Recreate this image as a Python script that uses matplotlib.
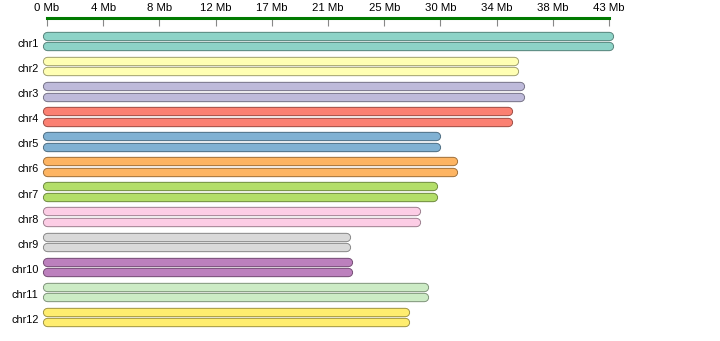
import matplotlib
matplotlib.use("Agg")
import matplotlib.pyplot as plt
import matplotlib.transforms as mtransforms
import numpy as np
from matplotlib.colors import to_rgb

chroms = ["chr1", "chr2", "chr3", "chr4", "chr5", "chr6",
          "chr7", "chr8", "chr9", "chr10", "chr11", "chr12"]
lengths_mb = [43.27, 35.94, 36.41, 35.50, 29.96, 31.25,
              29.70, 28.44, 23.01, 23.21, 29.02, 27.53]
colors = ["#8dd3c7", "#ffffb3", "#bebada", "#fb8072", "#80b1d3", "#fdb462",
          "#b3de69", "#fccde5", "#d9d9d9", "#bc80bd", "#ccebc5", "#ffed6f"]
tick_labels = ["0 Mb", "4 Mb", "8 Mb", "12 Mb", "17 Mb", "21 Mb",
               "25 Mb", "30 Mb", "34 Mb", "38 Mb", "43 Mb"]

plt.rcParams['font.family'] = ['Liberation Sans', 'DejaVu Sans']

W, H = 720, 341
fig = plt.figure(figsize=(W / 100, H / 100), dpi=100)
x0_px, x1_px = 47, 609
top_px = 17.5
row0_px, row_step = 41.0, 25.1
ax = fig.add_axes([x0_px / W, 0, (x1_px - x0_px) / W, (H - top_px) / H])

maxlen = max(lengths_mb)
ax.set_xlim(0, maxlen)
ax.set_ylim((H - row0_px) / row_step, (top_px - row0_px) / row_step)

off = 5.3 / row_step
for i, (L, c) in enumerate(zip(lengths_mb, colors)):
    edge = tuple(np.array(to_rgb(c)) * 0.62)
    for d in (-off, off):
        ax.plot([0, L], [i + d, i + d], color=edge, lw=6.7,
                solid_capstyle='round', clip_on=False, zorder=2)
        ax.plot([0, L], [i + d, i + d], color=c, lw=5.3,
                solid_capstyle='round', clip_on=False, zorder=3)

for s in ("left", "right", "bottom"):
    ax.spines[s].set_visible(False)
ax.spines["top"].set_color("#007a00")
ax.spines["top"].set_linewidth(2.2)

ax.xaxis.set_ticks_position('top')
ax.set_xticks([maxlen * k / 10 for k in range(11)])
ax.set_xticklabels(tick_labels)
ax.tick_params(axis='x', direction='in', length=5.5, width=0.8,
               color='#888888', labelsize=8.2, pad=3)

ax.set_yticks(range(len(chroms)))
ax.set_yticklabels(chroms)
ax.tick_params(axis='y', length=0, labelsize=7.8, pad=6)
shift = mtransforms.ScaledTranslation(0, -2 / 100, fig.dpi_scale_trans)
for lab in ax.get_yticklabels():
    lab.set_transform(lab.get_transform() + shift)

fig.savefig("out.png", dpi=100)
